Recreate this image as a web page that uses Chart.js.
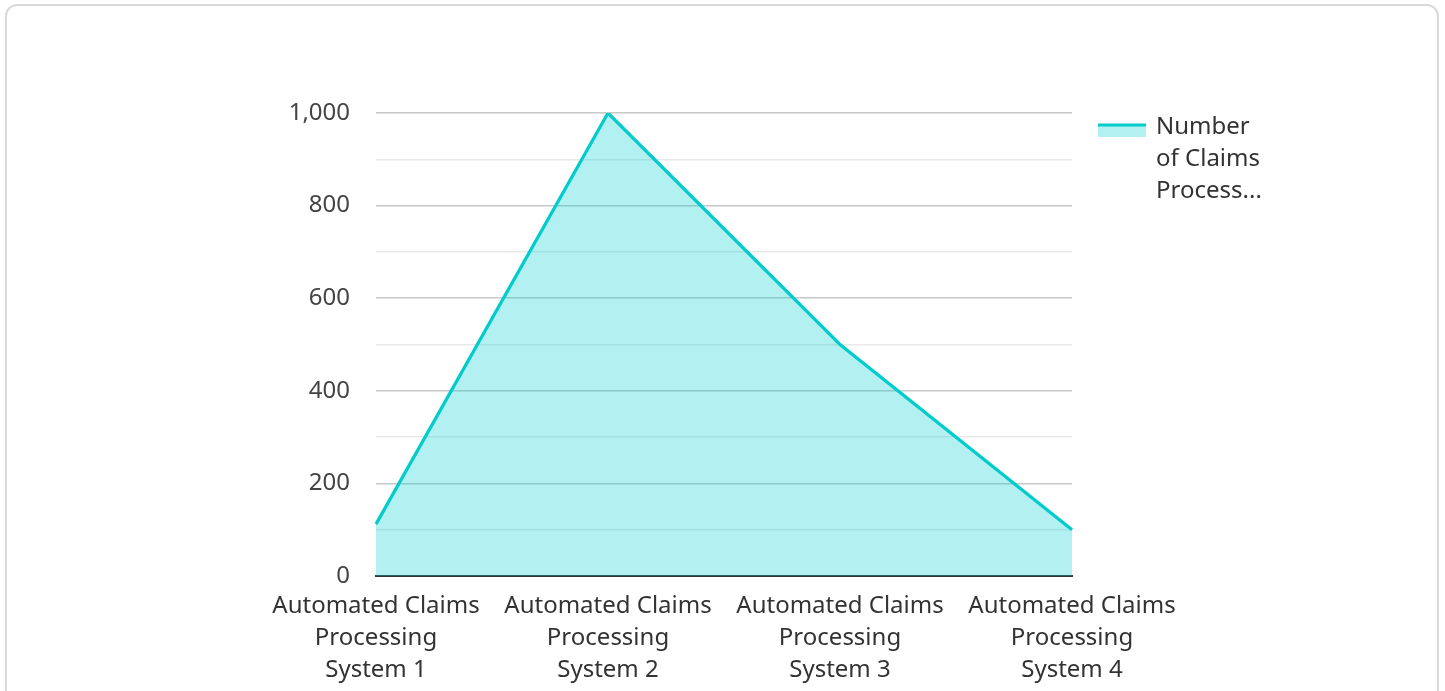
<!DOCTYPE html>
<html>
<head>
<meta charset="utf-8">
<script src="https://cdn.jsdelivr.net/npm/chart.js@4"></script>
<style>
  html, body { margin: 0; padding: 0; background: #fff; width: 1445px; height: 691px; overflow: hidden; }
  #card { position: absolute; left: 5px; top: 4px; width: 1430px; height: 720px; border: 2px solid #d9d9d9; border-radius: 12px; box-sizing: content-box; background: #fff; }
  #c { position: absolute; left: 0; top: 0; }
</style>
</head>
<body>
<div id="card"></div>
<canvas id="c" width="1445" height="691"></canvas>
<script>
const categories = [
  ["Automated Claims", "Processing", "System 1"],
  ["Automated Claims", "Processing", "System 2"],
  ["Automated Claims", "Processing", "System 3"],
  ["Automated Claims", "Processing", "System 4"]
];
const claimsProcessed = [112, 1000, 500, 100];
const seriesName = "Number of Claims Processed";
const legendLines = ["Number", "of Claims", "Process..."];
const yMin = 0, yMax = 1000, yStep = 100, yLabelEvery = 200;

const LINE = 'rgb(0,204,204)';
const FILL = 'rgba(0,206,209,0.3)';
const FONT = "'Noto Sans', sans-serif";

const legendPlugin = {
  id: 'sideLegend',
  afterDraw(chart) {
    const ctx = chart.ctx;
    const x0 = chart.chartArea.right + 26;
    const y0 = chart.chartArea.top + 12;
    ctx.save();
    ctx.fillStyle = FILL;
    ctx.fillRect(x0, y0, 48, 12);
    ctx.strokeStyle = LINE;
    ctx.lineWidth = 3;
    ctx.beginPath();
    ctx.moveTo(x0, y0);
    ctx.lineTo(x0 + 48, y0);
    ctx.stroke();
    ctx.fillStyle = '#333';
    ctx.font = "24px " + FONT;
    ctx.textBaseline = 'middle';
    ctx.textAlign = 'left';
    legendLines.forEach((t, i) => ctx.fillText(t, x0 + 58, y0 + 2 + i * 32));
    ctx.restore();
  }
};

new Chart(document.getElementById('c'), {
  type: 'line',
  data: {
    labels: categories,
    datasets: [{
      label: seriesName,
      data: claimsProcessed,
      borderColor: LINE,
      backgroundColor: FILL,
      borderWidth: 3.2,
      fill: 'origin',
      tension: 0,
      pointRadius: 0,
      pointHoverRadius: 0
    }]
  },
  options: {
    responsive: false,
    devicePixelRatio: 1,
    animation: false,
    layout: { padding: { left: 0, right: 373, top: 113, bottom: 0 } },
    plugins: { legend: { display: false }, tooltip: { enabled: false } },
    scales: {
      x: {
        offset: false,
        afterFit(s) { s.height = 115; },
        grid: { display: false, drawTicks: false },
        border: { display: true, color: '#333', width: 2 },
        ticks: { color: '#333', font: { family: FONT, size: 24, lineHeight: 1.333 }, padding: 14, maxRotation: 0, minRotation: 0, autoSkip: false }
      },
      y: {
        min: yMin, max: yMax,
        afterFit(s) { s.width = 376; },
        border: { display: false },
        grid: {
          drawTicks: false,
          color: (c) => (c.tick && c.tick.value % yLabelEvery === 0) ? '#c8c8c8' : '#e8e8e8',
          lineWidth: 1.5
        },
        ticks: {
          stepSize: yStep,
          padding: 26,
          color: '#444',
          font: { family: FONT, size: 24 },
          callback: (v) => v % yLabelEvery === 0 ? v.toLocaleString('en-US') : ''
        }
      }
    }
  },
  plugins: [legendPlugin]
});
</script>
</body>
</html>
